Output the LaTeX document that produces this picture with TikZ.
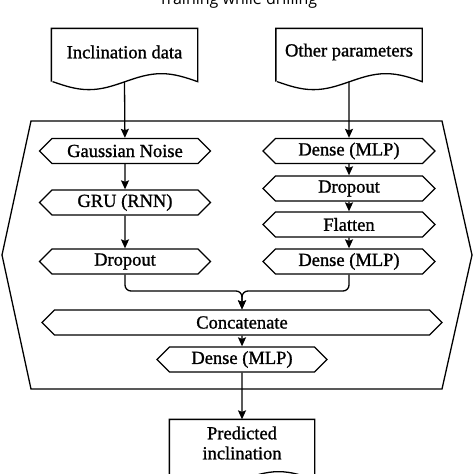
\documentclass[tikz,border=0pt]{standalone}
\usepackage{fontspec}
\setmainfont{Liberation Serif}[RawFeature={embolden=1.1}]
\newfontfamily\titlefont{Open Sans}
\usetikzlibrary{shapes.symbols,arrows.meta}

\begin{document}
\begin{tikzpicture}[
                    x=1pt,
                    y=-1pt,
                    ->,
                    >={Stealth[length=9pt,width=8pt,inset=1.5pt]},
                    line width=1.3pt,
                    font=\fontsize{18.5}{20}\selectfont
                ]
                \tikzstyle{layer}=[
                    shape=signal,
                    signal to=west and east,
                    signal pointer angle=90,
                    draw=black,
                    fill=white,
                    minimum height=25pt,
                    inner ysep=0pt
                ]
                \tikzstyle{doc}=[
                    minimum width=145pt,
                    minimum height=46pt
                ]

                \useasboundingbox (0,0) rectangle (474,474);

                \node[anchor=base, font=\titlefont\fontsize{16}{18}\selectfont] (title) at (238,4) {Training while drilling};

                % inputs
                \node[doc] (incl) at (124.5,52) {Inclination data};
                \node[doc] (other) at (349,52) {Other parameters};
                \draw[-] ([yshift=-6pt]incl.south west) -- (incl.north west) -- (incl.north east)
                    -- ([yshift=-6pt]incl.south east) sin ++(-36.25,-8) cos ++(-36.25,8)
                    sin ++(-36.25,8) cos ++(-36.25,-8);
                \draw[-] ([yshift=-6pt]other.south west) -- (other.north west) -- (other.north east)
                    -- ([yshift=-6pt]other.south east) sin ++(-36.25,-8) cos ++(-36.25,8)
                    sin ++(-36.25,8) cos ++(-36.25,-8);

                % model frame
                \draw[-] (31,121) -- (442,121) -- (472,255) -- (442,389) -- (31,389) -- (2,255) -- cycle;

                \node[layer, minimum width=171pt] (noise) at (125,151) {Gaussian Noise};
                \node[layer, minimum width=171pt] (gru) at (125,202.5) {GRU (RNN)};
                \node[layer, minimum width=171pt] (ldrop) at (125,261.5) {Dropout};

                \node[layer, minimum width=172pt] (dense1) at (349,151) {Dense (MLP)};
                \node[layer, minimum width=172pt] (rdrop) at (349,188.5) {Dropout};
                \node[layer, minimum width=172pt] (flat) at (349,224.5) {Flatten};
                \node[layer, minimum width=172pt] (dense2) at (349,261.5) {Dense (MLP)};

                \node[layer, minimum width=400pt] (concat) at (242,322.5) {Concatenate};
                \node[layer, minimum width=170pt] (dense3) at (242,359.5) {Dense (MLP)};

                % output
                \node[doc, minimum width=144pt, align=center] (pred) at (242,443) {Predicted\\inclination};
                \draw[-] ([yshift=-13pt]pred.south west) -- (pred.north west) -- (pred.north east)
                    -- ([yshift=-13pt]pred.south east) sin ++(-36,-8) cos ++(-36,8)
                    sin ++(-36,8) cos ++(-36,-8);

                \coordinate (join) at (242,291);

                \path
                ([yshift=-6pt]incl.south) edge (noise)
                (noise) edge (gru)
                (gru) edge (ldrop)
                ([yshift=-6pt]other.south) edge (dense1)
                (dense1) edge (rdrop)
                (rdrop) edge (flat)
                (flat) edge (dense2)
                (concat) edge (dense3)
                (dense3) edge (pred)
                ;

                \draw[rounded corners=6pt] (ldrop.south) |- (join) -- (concat.north);
                \draw[rounded corners=6pt] (dense2.south) |- (join) -- (concat.north);
            \end{tikzpicture}
\end{document}
